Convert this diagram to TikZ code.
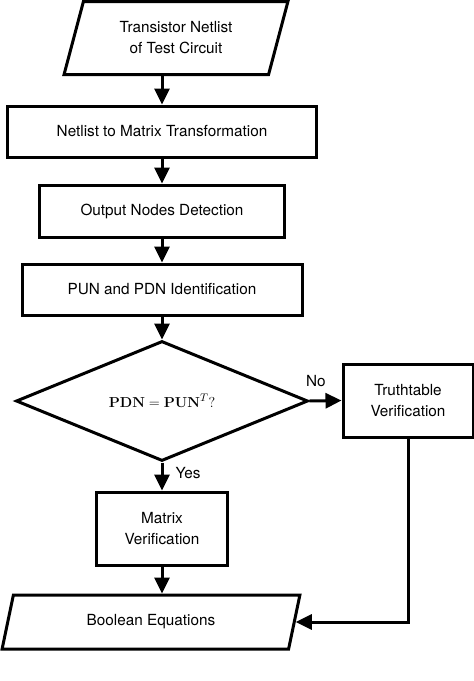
\documentclass[tikz,border=0pt]{standalone}
\usepackage[no-math]{fontspec}
\setmainfont{TeX Gyre Heros}
\usetikzlibrary{arrows.meta}
\usetikzlibrary{shapes.geometric}

\begin{document}
\begin{tikzpicture}[x=1pt,y=-1pt,
    every node/.style={font=\fontsize{15.3}{21}\selectfont},
    box/.style={draw, line width=3pt, rectangle, align=center, inner sep=0pt},
    io/.style={draw, line width=3pt, trapezium, trapezium left angle=70, trapezium right angle=110, trapezium stretches=true, align=center, inner sep=0pt},
    decision/.style={draw, line width=3pt, diamond, inner sep=0pt},
    flow/.style={line width=3pt, -{Triangle[length=16pt,width=15pt]}}]
      \useasboundingbox (0,0) rectangle (474,681);

      % Blocks
      \node[io, minimum width=224, minimum height=73] (netlist) at (176,38) {Transistor Netlist\\of Test Circuit};
      \node[box, minimum width=309, minimum height=51] (nmt) at (162,131.5) {Netlist to Matrix Transformation};
      \node[box, minimum width=245, minimum height=52] (onodes) at (162,211) {Output Nodes Detection};
      \node[box, minimum width=280, minimum height=51] (pun) at (162,289.5) {PUN and PDN Identification};
      \node[decision, minimum width=292, minimum height=120] (check) at (162,401) {$\mathbf{PDN}=\mathbf{PUN}^T?$};
      \node[box, minimum width=130, minimum height=73] (truth) at (408,400.5) {Truthtable\\Verification};
      \node[box, minimum width=131, minimum height=73] (mver) at (162,528.5) {Matrix\\Verification};
      \node[io, minimum width=298, minimum height=54] (eqs) at (151,622) {Boolean Equations};

      % Connectors
      \draw[flow] (nmt.north |- netlist.south) -- (nmt.north);
      \draw[flow] (nmt.south) -- (onodes.north);
      \draw[flow] (onodes.south) -- (pun.north);
      \draw[flow] (pun.south) -- (check.north);
      \draw[flow] (check.east) -- node[pos=0, anchor=south west, inner sep=0pt, xshift=-5pt, yshift=13pt] {No} (truth.west);
      \draw[flow] (check.south) -- node[pos=0, anchor=base west, inner sep=0pt, xshift=12pt, yshift=-16pt] {Yes} (mver.north);
      \draw[flow] (mver.south) -- (mver.south |- eqs.north);
      \draw[flow] (truth.south) |- (eqs.east);

  \end{tikzpicture}
\end{document}
